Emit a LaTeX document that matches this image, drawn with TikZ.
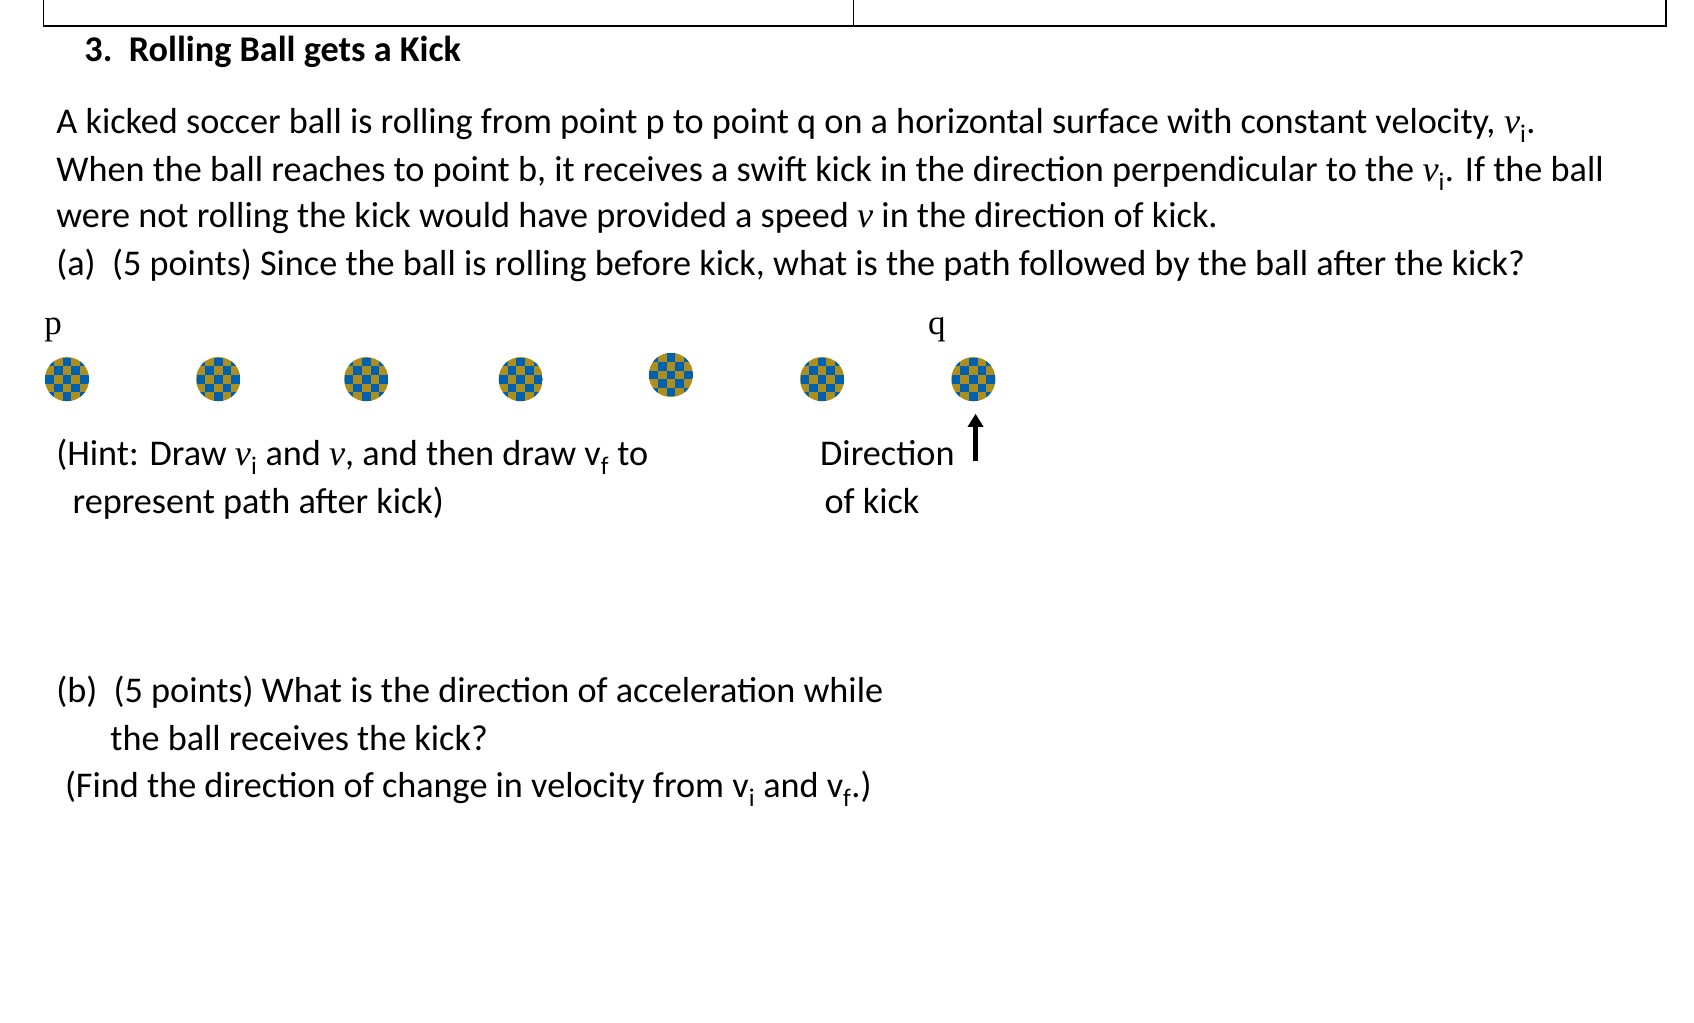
\documentclass[tikz,border=0pt]{standalone}
\usepackage{fontspec}
\usetikzlibrary{arrows.meta}
\setmainfont{Carlito}
\newfontfamily\serif{Liberation Serif}
\definecolor{bblue}{RGB}{0,96,176}
\definecolor{bgold}{RGB}{172,142,30}
\newcommand{\vv}[1]{{\serif\itshape v}\textsubscript{#1}}
\begin{document}
\begin{tikzpicture}[x=1.08pt,y=-1.08pt,
  txt/.style={anchor=base west,inner sep=0pt,font=\fontsize{36.2}{40}\selectfont},
  ball/.pic={
    \begin{scope}
    \clip (0,0) circle (20.5);
    \fill[bgold] (-21,-21) rectangle (21,21);
    \foreach \i in {0,...,4}{\foreach \j in {0,...,4}{
      \pgfmathtruncatemacro\s{mod(\i+\j,2)}
      \ifnum\s=0 \fill[bblue] (-20+8*\i,-20+8*\j) rectangle ++(8,8);\fi}}
    \end{scope}}]
\useasboundingbox (0,0) rectangle (1568,946);
\draw[line width=1.3pt] (40,0) -- (40,24) -- (1542,24) -- (1542,0);
\draw[line width=1.3pt] (790,0) -- (790,24);
\node[txt,font=\bfseries\fontsize{36.2}{40}\selectfont] (t) at (78,57) {3.\ \ Rolling Ball gets a Kick};
\node[txt] (l1) at (52,124) {A kicked soccer ball is rolling from point p to point q on a horizontal surface with constant velocity, \vv{i}.};
\node[txt] (l2) at (52,168) {When the ball reaches to point b, it receives a swift kick in the direction perpendicular to the \vv{i}. If the ball};
\node[txt] (l3) at (52,211) {were not rolling the kick would have provided a speed {\serif\itshape v} in the direction of kick.};
\node[txt] (l4) at (52,255) {(a)\ \ (5 points) Since the ball is rolling before kick, what is the path followed by the ball after the kick?};
\node[txt,font=\serif\fontsize{35}{38}\selectfont] (p) at (41,310) {p};
\node[txt,font=\serif\fontsize{35}{38}\selectfont] (q) at (859,310) {q};
\foreach \x/\y [count=\k] in {62/351,202/351,339/351,482/351,621/347,761/351,901/351}
  \pic (b\k) at (\x,\y) {ball};
\coordinate (a1) at (903,427);
\coordinate (a2) at (903,383);
\draw[line width=5.5pt,-{Triangle[length=13pt,width=15pt]}] (a1) -- (a2);
\node[txt] (h1) at (52,431) {(Hint: Draw \vv{i} and {\serif\itshape v}, and then draw v\textsubscript{f} to};
\node[txt] (h2) at (67,475) {represent path after kick)};
\node[txt] (d1) at (759,431) {Direction};
\node[txt] (d2) at (763,475) {of kick};
\node[txt] (b1) at (52,650) {(b)\ \ (5 points) What is the direction of acceleration while};
\node[txt] (b2) at (102,695) {the ball receives the kick?};
\node[txt] (b3) at (60,738) {(Find the direction of change in velocity from v\textsubscript{i} and v\textsubscript{f}.)};
\end{tikzpicture}
\end{document}
